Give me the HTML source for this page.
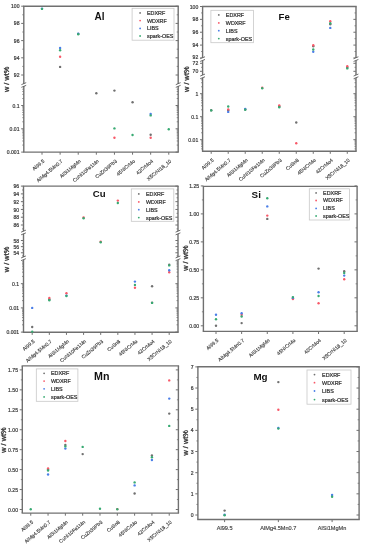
<!DOCTYPE html>
<html><head><meta charset="utf-8"><title>Element comparison</title>
<style>
html,body{margin:0;padding:0;background:#fff;}
body{width:365px;height:550px;overflow:hidden;}
svg{display:block;font-family:'Liberation Sans', Arial, sans-serif;}
</style></head>
<body>
<svg width="365" height="550" viewBox="0 0 365 550">
<rect width="365" height="550" fill="#fff"/>
<line x1="23.10" y1="6.20" x2="178.90" y2="6.20" stroke="#707070" stroke-width="1.4"/>
<line x1="23.10" y1="152.10" x2="178.90" y2="152.10" stroke="#707070" stroke-width="1.4"/>
<line x1="23.80" y1="6.20" x2="23.80" y2="152.10" stroke="#707070" stroke-width="1.4"/>
<line x1="178.20" y1="6.20" x2="178.20" y2="152.10" stroke="#707070" stroke-width="1.4"/>
<line x1="21.20" y1="6.20" x2="23.80" y2="6.20" stroke="#707070" stroke-width="1.0"/>
<line x1="175.60" y1="6.20" x2="178.20" y2="6.20" stroke="#707070" stroke-width="1.0"/>
<line x1="21.20" y1="23.40" x2="23.80" y2="23.40" stroke="#707070" stroke-width="1.0"/>
<line x1="175.60" y1="23.40" x2="178.20" y2="23.40" stroke="#707070" stroke-width="1.0"/>
<line x1="21.20" y1="40.60" x2="23.80" y2="40.60" stroke="#707070" stroke-width="1.0"/>
<line x1="175.60" y1="40.60" x2="178.20" y2="40.60" stroke="#707070" stroke-width="1.0"/>
<line x1="21.20" y1="57.80" x2="23.80" y2="57.80" stroke="#707070" stroke-width="1.0"/>
<line x1="175.60" y1="57.80" x2="178.20" y2="57.80" stroke="#707070" stroke-width="1.0"/>
<line x1="21.20" y1="75.00" x2="23.80" y2="75.00" stroke="#707070" stroke-width="1.0"/>
<line x1="175.60" y1="75.00" x2="178.20" y2="75.00" stroke="#707070" stroke-width="1.0"/>
<line x1="21.20" y1="105.50" x2="23.80" y2="105.50" stroke="#707070" stroke-width="1.0"/>
<line x1="175.60" y1="105.50" x2="178.20" y2="105.50" stroke="#707070" stroke-width="1.0"/>
<line x1="21.20" y1="128.80" x2="23.80" y2="128.80" stroke="#707070" stroke-width="1.0"/>
<line x1="175.60" y1="128.80" x2="178.20" y2="128.80" stroke="#707070" stroke-width="1.0"/>
<line x1="21.20" y1="152.10" x2="23.80" y2="152.10" stroke="#707070" stroke-width="1.0"/>
<line x1="175.60" y1="152.10" x2="178.20" y2="152.10" stroke="#707070" stroke-width="1.0"/>
<line x1="22.30" y1="14.80" x2="23.80" y2="14.80" stroke="#707070" stroke-width="0.8"/>
<line x1="176.70" y1="14.80" x2="178.20" y2="14.80" stroke="#707070" stroke-width="0.8"/>
<line x1="22.30" y1="32.00" x2="23.80" y2="32.00" stroke="#707070" stroke-width="0.8"/>
<line x1="176.70" y1="32.00" x2="178.20" y2="32.00" stroke="#707070" stroke-width="0.8"/>
<line x1="22.30" y1="49.20" x2="23.80" y2="49.20" stroke="#707070" stroke-width="0.8"/>
<line x1="176.70" y1="49.20" x2="178.20" y2="49.20" stroke="#707070" stroke-width="0.8"/>
<line x1="22.30" y1="66.40" x2="23.80" y2="66.40" stroke="#707070" stroke-width="0.8"/>
<line x1="176.70" y1="66.40" x2="178.20" y2="66.40" stroke="#707070" stroke-width="0.8"/>
<line x1="22.30" y1="145.09" x2="23.80" y2="145.09" stroke="#707070" stroke-width="0.8"/>
<line x1="176.70" y1="145.09" x2="178.20" y2="145.09" stroke="#707070" stroke-width="0.8"/>
<line x1="22.30" y1="140.98" x2="23.80" y2="140.98" stroke="#707070" stroke-width="0.8"/>
<line x1="176.70" y1="140.98" x2="178.20" y2="140.98" stroke="#707070" stroke-width="0.8"/>
<line x1="22.30" y1="138.07" x2="23.80" y2="138.07" stroke="#707070" stroke-width="0.8"/>
<line x1="176.70" y1="138.07" x2="178.20" y2="138.07" stroke="#707070" stroke-width="0.8"/>
<line x1="22.30" y1="135.81" x2="23.80" y2="135.81" stroke="#707070" stroke-width="0.8"/>
<line x1="176.70" y1="135.81" x2="178.20" y2="135.81" stroke="#707070" stroke-width="0.8"/>
<line x1="22.30" y1="133.97" x2="23.80" y2="133.97" stroke="#707070" stroke-width="0.8"/>
<line x1="176.70" y1="133.97" x2="178.20" y2="133.97" stroke="#707070" stroke-width="0.8"/>
<line x1="22.30" y1="132.41" x2="23.80" y2="132.41" stroke="#707070" stroke-width="0.8"/>
<line x1="176.70" y1="132.41" x2="178.20" y2="132.41" stroke="#707070" stroke-width="0.8"/>
<line x1="22.30" y1="131.06" x2="23.80" y2="131.06" stroke="#707070" stroke-width="0.8"/>
<line x1="176.70" y1="131.06" x2="178.20" y2="131.06" stroke="#707070" stroke-width="0.8"/>
<line x1="22.30" y1="129.87" x2="23.80" y2="129.87" stroke="#707070" stroke-width="0.8"/>
<line x1="176.70" y1="129.87" x2="178.20" y2="129.87" stroke="#707070" stroke-width="0.8"/>
<line x1="22.30" y1="121.79" x2="23.80" y2="121.79" stroke="#707070" stroke-width="0.8"/>
<line x1="176.70" y1="121.79" x2="178.20" y2="121.79" stroke="#707070" stroke-width="0.8"/>
<line x1="22.30" y1="117.68" x2="23.80" y2="117.68" stroke="#707070" stroke-width="0.8"/>
<line x1="176.70" y1="117.68" x2="178.20" y2="117.68" stroke="#707070" stroke-width="0.8"/>
<line x1="22.30" y1="114.77" x2="23.80" y2="114.77" stroke="#707070" stroke-width="0.8"/>
<line x1="176.70" y1="114.77" x2="178.20" y2="114.77" stroke="#707070" stroke-width="0.8"/>
<line x1="22.30" y1="112.51" x2="23.80" y2="112.51" stroke="#707070" stroke-width="0.8"/>
<line x1="176.70" y1="112.51" x2="178.20" y2="112.51" stroke="#707070" stroke-width="0.8"/>
<line x1="22.30" y1="110.67" x2="23.80" y2="110.67" stroke="#707070" stroke-width="0.8"/>
<line x1="176.70" y1="110.67" x2="178.20" y2="110.67" stroke="#707070" stroke-width="0.8"/>
<line x1="22.30" y1="109.11" x2="23.80" y2="109.11" stroke="#707070" stroke-width="0.8"/>
<line x1="176.70" y1="109.11" x2="178.20" y2="109.11" stroke="#707070" stroke-width="0.8"/>
<line x1="22.30" y1="107.76" x2="23.80" y2="107.76" stroke="#707070" stroke-width="0.8"/>
<line x1="176.70" y1="107.76" x2="178.20" y2="107.76" stroke="#707070" stroke-width="0.8"/>
<line x1="22.30" y1="106.57" x2="23.80" y2="106.57" stroke="#707070" stroke-width="0.8"/>
<line x1="176.70" y1="106.57" x2="178.20" y2="106.57" stroke="#707070" stroke-width="0.8"/>
<line x1="22.30" y1="98.49" x2="23.80" y2="98.49" stroke="#707070" stroke-width="0.8"/>
<line x1="176.70" y1="98.49" x2="178.20" y2="98.49" stroke="#707070" stroke-width="0.8"/>
<line x1="22.30" y1="94.38" x2="23.80" y2="94.38" stroke="#707070" stroke-width="0.8"/>
<line x1="176.70" y1="94.38" x2="178.20" y2="94.38" stroke="#707070" stroke-width="0.8"/>
<line x1="22.30" y1="91.47" x2="23.80" y2="91.47" stroke="#707070" stroke-width="0.8"/>
<line x1="176.70" y1="91.47" x2="178.20" y2="91.47" stroke="#707070" stroke-width="0.8"/>
<line x1="22.30" y1="89.21" x2="23.80" y2="89.21" stroke="#707070" stroke-width="0.8"/>
<line x1="176.70" y1="89.21" x2="178.20" y2="89.21" stroke="#707070" stroke-width="0.8"/>
<text transform="translate(19.50 8.28) scale(0.88 1)" font-size="5.8" text-anchor="end" fill="#3a3a3a" stroke="#3a3a3a" stroke-width="0.22">100</text>
<text transform="translate(19.50 25.48) scale(0.88 1)" font-size="5.8" text-anchor="end" fill="#3a3a3a" stroke="#3a3a3a" stroke-width="0.22">98</text>
<text transform="translate(19.50 42.68) scale(0.88 1)" font-size="5.8" text-anchor="end" fill="#3a3a3a" stroke="#3a3a3a" stroke-width="0.22">96</text>
<text transform="translate(19.50 59.88) scale(0.88 1)" font-size="5.8" text-anchor="end" fill="#3a3a3a" stroke="#3a3a3a" stroke-width="0.22">94</text>
<text transform="translate(19.50 77.08) scale(0.88 1)" font-size="5.8" text-anchor="end" fill="#3a3a3a" stroke="#3a3a3a" stroke-width="0.22">92</text>
<text transform="translate(19.50 107.58) scale(0.88 1)" font-size="5.8" text-anchor="end" fill="#3a3a3a" stroke="#3a3a3a" stroke-width="0.22">0.1</text>
<text transform="translate(19.50 130.88) scale(0.88 1)" font-size="5.8" text-anchor="end" fill="#3a3a3a" stroke="#3a3a3a" stroke-width="0.22">0.01</text>
<text transform="translate(19.50 154.18) scale(0.88 1)" font-size="5.8" text-anchor="end" fill="#3a3a3a" stroke="#3a3a3a" stroke-width="0.22">0.001</text>
<polygon points="21.40,84.65 26.20,82.65 26.20,85.35 21.40,87.35" fill="#fff"/>
<line x1="21.40" y1="84.65" x2="26.20" y2="82.65" stroke="#555" stroke-width="0.85"/>
<line x1="21.40" y1="87.35" x2="26.20" y2="85.35" stroke="#555" stroke-width="0.85"/>
<polygon points="175.80,84.65 180.60,82.65 180.60,85.35 175.80,87.35" fill="#fff"/>
<line x1="175.80" y1="84.65" x2="180.60" y2="82.65" stroke="#555" stroke-width="0.85"/>
<line x1="175.80" y1="87.35" x2="180.60" y2="85.35" stroke="#555" stroke-width="0.85"/>
<line x1="42.00" y1="152.10" x2="42.00" y2="154.70" stroke="#707070" stroke-width="1.0"/>
<line x1="60.11" y1="152.10" x2="60.11" y2="154.70" stroke="#707070" stroke-width="1.0"/>
<line x1="78.22" y1="152.10" x2="78.22" y2="154.70" stroke="#707070" stroke-width="1.0"/>
<line x1="96.33" y1="152.10" x2="96.33" y2="154.70" stroke="#707070" stroke-width="1.0"/>
<line x1="114.44" y1="152.10" x2="114.44" y2="154.70" stroke="#707070" stroke-width="1.0"/>
<line x1="132.55" y1="152.10" x2="132.55" y2="154.70" stroke="#707070" stroke-width="1.0"/>
<line x1="150.66" y1="152.10" x2="150.66" y2="154.70" stroke="#707070" stroke-width="1.0"/>
<line x1="168.77" y1="152.10" x2="168.77" y2="154.70" stroke="#707070" stroke-width="1.0"/>
<text x="44.90" y="161.70" font-size="5.0" text-anchor="end" fill="#444444" font-weight="normal" stroke="#444444" stroke-width="0.15" transform="rotate(-40 44.90 161.70)">Al99.5</text>
<text x="63.01" y="161.70" font-size="5.0" text-anchor="end" fill="#444444" font-weight="normal" stroke="#444444" stroke-width="0.15" transform="rotate(-40 63.01 161.70)">AlMg4.5Mn0.7</text>
<text x="81.12" y="161.70" font-size="5.0" text-anchor="end" fill="#444444" font-weight="normal" stroke="#444444" stroke-width="0.15" transform="rotate(-40 81.12 161.70)">AlSi1MgMn</text>
<text x="99.23" y="161.70" font-size="5.0" text-anchor="end" fill="#444444" font-weight="normal" stroke="#444444" stroke-width="0.15" transform="rotate(-40 99.23 161.70)">CuNi10Fe1Mn</text>
<text x="117.34" y="161.70" font-size="5.0" text-anchor="end" fill="#444444" font-weight="normal" stroke="#444444" stroke-width="0.15" transform="rotate(-40 117.34 161.70)">CuZn39Pb3</text>
<text x="135.45" y="161.70" font-size="5.0" text-anchor="end" fill="#444444" font-weight="normal" stroke="#444444" stroke-width="0.15" transform="rotate(-40 135.45 161.70)">45NiCrMo</text>
<text x="153.56" y="161.70" font-size="5.0" text-anchor="end" fill="#444444" font-weight="normal" stroke="#444444" stroke-width="0.15" transform="rotate(-40 153.56 161.70)">42CrMo4</text>
<text x="171.67" y="161.70" font-size="5.0" text-anchor="end" fill="#444444" font-weight="normal" stroke="#444444" stroke-width="0.15" transform="rotate(-40 171.67 161.70)">X5CrNi18_10</text>
<rect x="132.10" y="8.30" width="41.90" height="31.90" fill="#fff" stroke="#c8c8c8" stroke-width="0.8"/>
<circle cx="140.10" cy="12.90" r="0.90" fill="#707070"/>
<text x="147.00" y="14.84" font-size="5.4" text-anchor="start" fill="#333" font-weight="normal" stroke="#333" stroke-width="0.22" >EDXRF</text>
<circle cx="140.10" cy="20.60" r="0.90" fill="#f85868"/>
<text x="147.00" y="22.54" font-size="5.4" text-anchor="start" fill="#333" font-weight="normal" stroke="#333" stroke-width="0.22" >WDXRF</text>
<circle cx="140.10" cy="28.40" r="0.90" fill="#4a7ee8"/>
<text x="147.00" y="30.34" font-size="5.4" text-anchor="start" fill="#333" font-weight="normal" stroke="#333" stroke-width="0.22" >LIBS</text>
<circle cx="140.10" cy="36.00" r="0.90" fill="#38aa72"/>
<text x="147.00" y="37.94" font-size="5.4" text-anchor="start" fill="#333" font-weight="normal" stroke="#333" stroke-width="0.22" >spark-OES</text>
<text x="94.60" y="19.50" font-size="10" text-anchor="start" fill="#111" font-weight="bold" >Al</text>
<text x="9.50" y="79.30" font-size="7.4" text-anchor="middle" fill="#333" font-weight="normal" stroke="#333" stroke-width="0.3" transform="rotate(-90 9.50 79.30)">w / wt%</text>
<circle cx="60.11" cy="66.90" r="1.20" fill="#707070"/>
<circle cx="78.22" cy="33.90" r="1.20" fill="#707070"/>
<circle cx="96.33" cy="93.30" r="1.20" fill="#707070"/>
<circle cx="114.44" cy="90.60" r="1.20" fill="#707070"/>
<circle cx="132.55" cy="102.20" r="1.20" fill="#707070"/>
<circle cx="150.66" cy="134.70" r="1.20" fill="#707070"/>
<circle cx="60.11" cy="56.80" r="1.20" fill="#f85868"/>
<circle cx="114.44" cy="137.70" r="1.20" fill="#f85868"/>
<circle cx="150.66" cy="137.70" r="1.20" fill="#f85868"/>
<circle cx="42.00" cy="8.60" r="1.20" fill="#4a7ee8"/>
<circle cx="60.11" cy="47.90" r="1.20" fill="#4a7ee8"/>
<circle cx="78.22" cy="33.60" r="1.20" fill="#4a7ee8"/>
<circle cx="150.66" cy="114.00" r="1.20" fill="#4a7ee8"/>
<circle cx="42.00" cy="8.90" r="1.20" fill="#38aa72"/>
<circle cx="60.11" cy="50.20" r="1.20" fill="#38aa72"/>
<circle cx="78.22" cy="34.20" r="1.20" fill="#38aa72"/>
<circle cx="114.44" cy="128.40" r="1.20" fill="#38aa72"/>
<circle cx="132.55" cy="135.00" r="1.20" fill="#38aa72"/>
<circle cx="150.66" cy="115.40" r="1.20" fill="#38aa72"/>
<circle cx="168.77" cy="129.20" r="1.20" fill="#38aa72"/>
<line x1="201.90" y1="6.50" x2="356.70" y2="6.50" stroke="#707070" stroke-width="1.4"/>
<line x1="201.90" y1="151.20" x2="356.70" y2="151.20" stroke="#707070" stroke-width="1.4"/>
<line x1="202.60" y1="6.50" x2="202.60" y2="151.20" stroke="#707070" stroke-width="1.4"/>
<line x1="356.00" y1="6.50" x2="356.00" y2="151.20" stroke="#707070" stroke-width="1.4"/>
<line x1="200.00" y1="6.50" x2="202.60" y2="6.50" stroke="#707070" stroke-width="1.0"/>
<line x1="353.40" y1="6.50" x2="356.00" y2="6.50" stroke="#707070" stroke-width="1.0"/>
<line x1="200.00" y1="19.36" x2="202.60" y2="19.36" stroke="#707070" stroke-width="1.0"/>
<line x1="353.40" y1="19.36" x2="356.00" y2="19.36" stroke="#707070" stroke-width="1.0"/>
<line x1="200.00" y1="32.22" x2="202.60" y2="32.22" stroke="#707070" stroke-width="1.0"/>
<line x1="353.40" y1="32.22" x2="356.00" y2="32.22" stroke="#707070" stroke-width="1.0"/>
<line x1="200.00" y1="45.08" x2="202.60" y2="45.08" stroke="#707070" stroke-width="1.0"/>
<line x1="353.40" y1="45.08" x2="356.00" y2="45.08" stroke="#707070" stroke-width="1.0"/>
<line x1="200.00" y1="57.94" x2="202.60" y2="57.94" stroke="#707070" stroke-width="1.0"/>
<line x1="353.40" y1="57.94" x2="356.00" y2="57.94" stroke="#707070" stroke-width="1.0"/>
<line x1="200.00" y1="63.30" x2="202.60" y2="63.30" stroke="#707070" stroke-width="1.0"/>
<line x1="353.40" y1="63.30" x2="356.00" y2="63.30" stroke="#707070" stroke-width="1.0"/>
<line x1="200.00" y1="71.30" x2="202.60" y2="71.30" stroke="#707070" stroke-width="1.0"/>
<line x1="353.40" y1="71.30" x2="356.00" y2="71.30" stroke="#707070" stroke-width="1.0"/>
<line x1="200.00" y1="93.70" x2="202.60" y2="93.70" stroke="#707070" stroke-width="1.0"/>
<line x1="353.40" y1="93.70" x2="356.00" y2="93.70" stroke="#707070" stroke-width="1.0"/>
<line x1="200.00" y1="116.70" x2="202.60" y2="116.70" stroke="#707070" stroke-width="1.0"/>
<line x1="353.40" y1="116.70" x2="356.00" y2="116.70" stroke="#707070" stroke-width="1.0"/>
<line x1="200.00" y1="139.70" x2="202.60" y2="139.70" stroke="#707070" stroke-width="1.0"/>
<line x1="353.40" y1="139.70" x2="356.00" y2="139.70" stroke="#707070" stroke-width="1.0"/>
<line x1="201.10" y1="12.93" x2="202.60" y2="12.93" stroke="#707070" stroke-width="0.8"/>
<line x1="354.50" y1="12.93" x2="356.00" y2="12.93" stroke="#707070" stroke-width="0.8"/>
<line x1="201.10" y1="25.79" x2="202.60" y2="25.79" stroke="#707070" stroke-width="0.8"/>
<line x1="354.50" y1="25.79" x2="356.00" y2="25.79" stroke="#707070" stroke-width="0.8"/>
<line x1="201.10" y1="38.65" x2="202.60" y2="38.65" stroke="#707070" stroke-width="0.8"/>
<line x1="354.50" y1="38.65" x2="356.00" y2="38.65" stroke="#707070" stroke-width="0.8"/>
<line x1="201.10" y1="51.51" x2="202.60" y2="51.51" stroke="#707070" stroke-width="0.8"/>
<line x1="354.50" y1="51.51" x2="356.00" y2="51.51" stroke="#707070" stroke-width="0.8"/>
<line x1="201.10" y1="67.30" x2="202.60" y2="67.30" stroke="#707070" stroke-width="0.8"/>
<line x1="354.50" y1="67.30" x2="356.00" y2="67.30" stroke="#707070" stroke-width="0.8"/>
<line x1="201.10" y1="148.85" x2="202.60" y2="148.85" stroke="#707070" stroke-width="0.8"/>
<line x1="354.50" y1="148.85" x2="356.00" y2="148.85" stroke="#707070" stroke-width="0.8"/>
<line x1="201.10" y1="146.62" x2="202.60" y2="146.62" stroke="#707070" stroke-width="0.8"/>
<line x1="354.50" y1="146.62" x2="356.00" y2="146.62" stroke="#707070" stroke-width="0.8"/>
<line x1="201.10" y1="144.80" x2="202.60" y2="144.80" stroke="#707070" stroke-width="0.8"/>
<line x1="354.50" y1="144.80" x2="356.00" y2="144.80" stroke="#707070" stroke-width="0.8"/>
<line x1="201.10" y1="143.26" x2="202.60" y2="143.26" stroke="#707070" stroke-width="0.8"/>
<line x1="354.50" y1="143.26" x2="356.00" y2="143.26" stroke="#707070" stroke-width="0.8"/>
<line x1="201.10" y1="141.93" x2="202.60" y2="141.93" stroke="#707070" stroke-width="0.8"/>
<line x1="354.50" y1="141.93" x2="356.00" y2="141.93" stroke="#707070" stroke-width="0.8"/>
<line x1="201.10" y1="140.75" x2="202.60" y2="140.75" stroke="#707070" stroke-width="0.8"/>
<line x1="354.50" y1="140.75" x2="356.00" y2="140.75" stroke="#707070" stroke-width="0.8"/>
<line x1="201.10" y1="132.78" x2="202.60" y2="132.78" stroke="#707070" stroke-width="0.8"/>
<line x1="354.50" y1="132.78" x2="356.00" y2="132.78" stroke="#707070" stroke-width="0.8"/>
<line x1="201.10" y1="128.73" x2="202.60" y2="128.73" stroke="#707070" stroke-width="0.8"/>
<line x1="354.50" y1="128.73" x2="356.00" y2="128.73" stroke="#707070" stroke-width="0.8"/>
<line x1="201.10" y1="125.85" x2="202.60" y2="125.85" stroke="#707070" stroke-width="0.8"/>
<line x1="354.50" y1="125.85" x2="356.00" y2="125.85" stroke="#707070" stroke-width="0.8"/>
<line x1="201.10" y1="123.62" x2="202.60" y2="123.62" stroke="#707070" stroke-width="0.8"/>
<line x1="354.50" y1="123.62" x2="356.00" y2="123.62" stroke="#707070" stroke-width="0.8"/>
<line x1="201.10" y1="121.80" x2="202.60" y2="121.80" stroke="#707070" stroke-width="0.8"/>
<line x1="354.50" y1="121.80" x2="356.00" y2="121.80" stroke="#707070" stroke-width="0.8"/>
<line x1="201.10" y1="120.26" x2="202.60" y2="120.26" stroke="#707070" stroke-width="0.8"/>
<line x1="354.50" y1="120.26" x2="356.00" y2="120.26" stroke="#707070" stroke-width="0.8"/>
<line x1="201.10" y1="118.93" x2="202.60" y2="118.93" stroke="#707070" stroke-width="0.8"/>
<line x1="354.50" y1="118.93" x2="356.00" y2="118.93" stroke="#707070" stroke-width="0.8"/>
<line x1="201.10" y1="117.75" x2="202.60" y2="117.75" stroke="#707070" stroke-width="0.8"/>
<line x1="354.50" y1="117.75" x2="356.00" y2="117.75" stroke="#707070" stroke-width="0.8"/>
<line x1="201.10" y1="109.78" x2="202.60" y2="109.78" stroke="#707070" stroke-width="0.8"/>
<line x1="354.50" y1="109.78" x2="356.00" y2="109.78" stroke="#707070" stroke-width="0.8"/>
<line x1="201.10" y1="105.73" x2="202.60" y2="105.73" stroke="#707070" stroke-width="0.8"/>
<line x1="354.50" y1="105.73" x2="356.00" y2="105.73" stroke="#707070" stroke-width="0.8"/>
<line x1="201.10" y1="102.85" x2="202.60" y2="102.85" stroke="#707070" stroke-width="0.8"/>
<line x1="354.50" y1="102.85" x2="356.00" y2="102.85" stroke="#707070" stroke-width="0.8"/>
<line x1="201.10" y1="100.62" x2="202.60" y2="100.62" stroke="#707070" stroke-width="0.8"/>
<line x1="354.50" y1="100.62" x2="356.00" y2="100.62" stroke="#707070" stroke-width="0.8"/>
<line x1="201.10" y1="98.80" x2="202.60" y2="98.80" stroke="#707070" stroke-width="0.8"/>
<line x1="354.50" y1="98.80" x2="356.00" y2="98.80" stroke="#707070" stroke-width="0.8"/>
<line x1="201.10" y1="97.26" x2="202.60" y2="97.26" stroke="#707070" stroke-width="0.8"/>
<line x1="354.50" y1="97.26" x2="356.00" y2="97.26" stroke="#707070" stroke-width="0.8"/>
<line x1="201.10" y1="95.93" x2="202.60" y2="95.93" stroke="#707070" stroke-width="0.8"/>
<line x1="354.50" y1="95.93" x2="356.00" y2="95.93" stroke="#707070" stroke-width="0.8"/>
<line x1="201.10" y1="94.75" x2="202.60" y2="94.75" stroke="#707070" stroke-width="0.8"/>
<line x1="354.50" y1="94.75" x2="356.00" y2="94.75" stroke="#707070" stroke-width="0.8"/>
<line x1="201.10" y1="86.78" x2="202.60" y2="86.78" stroke="#707070" stroke-width="0.8"/>
<line x1="354.50" y1="86.78" x2="356.00" y2="86.78" stroke="#707070" stroke-width="0.8"/>
<line x1="201.10" y1="82.73" x2="202.60" y2="82.73" stroke="#707070" stroke-width="0.8"/>
<line x1="354.50" y1="82.73" x2="356.00" y2="82.73" stroke="#707070" stroke-width="0.8"/>
<line x1="201.10" y1="79.85" x2="202.60" y2="79.85" stroke="#707070" stroke-width="0.8"/>
<line x1="354.50" y1="79.85" x2="356.00" y2="79.85" stroke="#707070" stroke-width="0.8"/>
<text transform="translate(198.30 8.58) scale(0.88 1)" font-size="5.8" text-anchor="end" fill="#3a3a3a" stroke="#3a3a3a" stroke-width="0.22">100</text>
<text transform="translate(198.30 21.44) scale(0.88 1)" font-size="5.8" text-anchor="end" fill="#3a3a3a" stroke="#3a3a3a" stroke-width="0.22">98</text>
<text transform="translate(198.30 34.30) scale(0.88 1)" font-size="5.8" text-anchor="end" fill="#3a3a3a" stroke="#3a3a3a" stroke-width="0.22">96</text>
<text transform="translate(198.30 47.16) scale(0.88 1)" font-size="5.8" text-anchor="end" fill="#3a3a3a" stroke="#3a3a3a" stroke-width="0.22">94</text>
<text transform="translate(198.30 59.22) scale(0.88 1)" font-size="5.8" text-anchor="end" fill="#3a3a3a" stroke="#3a3a3a" stroke-width="0.22">92</text>
<text transform="translate(198.30 65.38) scale(0.88 1)" font-size="5.8" text-anchor="end" fill="#3a3a3a" stroke="#3a3a3a" stroke-width="0.22">72</text>
<text transform="translate(198.30 73.38) scale(0.88 1)" font-size="5.8" text-anchor="end" fill="#3a3a3a" stroke="#3a3a3a" stroke-width="0.22">70</text>
<text transform="translate(198.30 95.78) scale(0.88 1)" font-size="5.8" text-anchor="end" fill="#3a3a3a" stroke="#3a3a3a" stroke-width="0.22">1</text>
<text transform="translate(198.30 118.78) scale(0.88 1)" font-size="5.8" text-anchor="end" fill="#3a3a3a" stroke="#3a3a3a" stroke-width="0.22">0.1</text>
<text transform="translate(198.30 141.78) scale(0.88 1)" font-size="5.8" text-anchor="end" fill="#3a3a3a" stroke="#3a3a3a" stroke-width="0.22">0.01</text>
<polygon points="200.20,58.75 205.00,56.75 205.00,59.45 200.20,61.45" fill="#fff"/>
<line x1="200.20" y1="58.75" x2="205.00" y2="56.75" stroke="#555" stroke-width="0.85"/>
<line x1="200.20" y1="61.45" x2="205.00" y2="59.45" stroke="#555" stroke-width="0.85"/>
<polygon points="353.60,58.75 358.40,56.75 358.40,59.45 353.60,61.45" fill="#fff"/>
<line x1="353.60" y1="58.75" x2="358.40" y2="56.75" stroke="#555" stroke-width="0.85"/>
<line x1="353.60" y1="61.45" x2="358.40" y2="59.45" stroke="#555" stroke-width="0.85"/>
<polygon points="200.20,76.05 205.00,74.05 205.00,76.75 200.20,78.75" fill="#fff"/>
<line x1="200.20" y1="76.05" x2="205.00" y2="74.05" stroke="#555" stroke-width="0.85"/>
<line x1="200.20" y1="78.75" x2="205.00" y2="76.75" stroke="#555" stroke-width="0.85"/>
<polygon points="353.60,76.05 358.40,74.05 358.40,76.75 353.60,78.75" fill="#fff"/>
<line x1="353.60" y1="76.05" x2="358.40" y2="74.05" stroke="#555" stroke-width="0.85"/>
<line x1="353.60" y1="78.75" x2="358.40" y2="76.75" stroke="#555" stroke-width="0.85"/>
<line x1="211.20" y1="151.20" x2="211.20" y2="153.80" stroke="#707070" stroke-width="1.0"/>
<line x1="228.21" y1="151.20" x2="228.21" y2="153.80" stroke="#707070" stroke-width="1.0"/>
<line x1="245.22" y1="151.20" x2="245.22" y2="153.80" stroke="#707070" stroke-width="1.0"/>
<line x1="262.23" y1="151.20" x2="262.23" y2="153.80" stroke="#707070" stroke-width="1.0"/>
<line x1="279.24" y1="151.20" x2="279.24" y2="153.80" stroke="#707070" stroke-width="1.0"/>
<line x1="296.25" y1="151.20" x2="296.25" y2="153.80" stroke="#707070" stroke-width="1.0"/>
<line x1="313.26" y1="151.20" x2="313.26" y2="153.80" stroke="#707070" stroke-width="1.0"/>
<line x1="330.27" y1="151.20" x2="330.27" y2="153.80" stroke="#707070" stroke-width="1.0"/>
<line x1="347.28" y1="151.20" x2="347.28" y2="153.80" stroke="#707070" stroke-width="1.0"/>
<text x="214.10" y="160.80" font-size="5.0" text-anchor="end" fill="#444444" font-weight="normal" stroke="#444444" stroke-width="0.15" transform="rotate(-40 214.10 160.80)">Al99.5</text>
<text x="231.11" y="160.80" font-size="5.0" text-anchor="end" fill="#444444" font-weight="normal" stroke="#444444" stroke-width="0.15" transform="rotate(-40 231.11 160.80)">AlMg4.5Mn0.7</text>
<text x="248.12" y="160.80" font-size="5.0" text-anchor="end" fill="#444444" font-weight="normal" stroke="#444444" stroke-width="0.15" transform="rotate(-40 248.12 160.80)">AlSi1MgMn</text>
<text x="265.13" y="160.80" font-size="5.0" text-anchor="end" fill="#444444" font-weight="normal" stroke="#444444" stroke-width="0.15" transform="rotate(-40 265.13 160.80)">CuNi10Fe1Mn</text>
<text x="282.14" y="160.80" font-size="5.0" text-anchor="end" fill="#444444" font-weight="normal" stroke="#444444" stroke-width="0.15" transform="rotate(-40 282.14 160.80)">CuZn39Pb3</text>
<text x="299.15" y="160.80" font-size="5.0" text-anchor="end" fill="#444444" font-weight="normal" stroke="#444444" stroke-width="0.15" transform="rotate(-40 299.15 160.80)">CuSn8</text>
<text x="316.16" y="160.80" font-size="5.0" text-anchor="end" fill="#444444" font-weight="normal" stroke="#444444" stroke-width="0.15" transform="rotate(-40 316.16 160.80)">45NiCrMo</text>
<text x="333.17" y="160.80" font-size="5.0" text-anchor="end" fill="#444444" font-weight="normal" stroke="#444444" stroke-width="0.15" transform="rotate(-40 333.17 160.80)">42CrMo4</text>
<text x="350.18" y="160.80" font-size="5.0" text-anchor="end" fill="#444444" font-weight="normal" stroke="#444444" stroke-width="0.15" transform="rotate(-40 350.18 160.80)">X5CrNi18_10</text>
<rect x="210.90" y="10.30" width="42.50" height="32.40" fill="#fff" stroke="#c8c8c8" stroke-width="0.8"/>
<circle cx="218.80" cy="14.90" r="0.90" fill="#707070"/>
<text x="225.80" y="16.84" font-size="5.4" text-anchor="start" fill="#333" font-weight="normal" stroke="#333" stroke-width="0.22" >EDXRF</text>
<circle cx="218.80" cy="22.90" r="0.90" fill="#f85868"/>
<text x="225.80" y="24.84" font-size="5.4" text-anchor="start" fill="#333" font-weight="normal" stroke="#333" stroke-width="0.22" >WDXRF</text>
<circle cx="218.80" cy="30.70" r="0.90" fill="#4a7ee8"/>
<text x="225.80" y="32.64" font-size="5.4" text-anchor="start" fill="#333" font-weight="normal" stroke="#333" stroke-width="0.22" >LIBS</text>
<circle cx="218.80" cy="38.60" r="0.90" fill="#38aa72"/>
<text x="225.80" y="40.54" font-size="5.4" text-anchor="start" fill="#333" font-weight="normal" stroke="#333" stroke-width="0.22" >spark-OES</text>
<text x="278.60" y="20.00" font-size="9.6" text-anchor="start" fill="#111" font-weight="bold" >Fe</text>
<text x="188.70" y="79.20" font-size="7.4" text-anchor="middle" fill="#333" font-weight="normal" stroke="#333" stroke-width="0.3" transform="rotate(-90 188.70 79.20)">w / wt%</text>
<circle cx="211.20" cy="110.20" r="1.20" fill="#707070"/>
<circle cx="228.21" cy="110.30" r="1.20" fill="#707070"/>
<circle cx="245.22" cy="109.40" r="1.20" fill="#707070"/>
<circle cx="279.24" cy="106.20" r="1.20" fill="#707070"/>
<circle cx="296.25" cy="122.50" r="1.20" fill="#707070"/>
<circle cx="313.26" cy="46.20" r="1.20" fill="#707070"/>
<circle cx="330.27" cy="24.30" r="1.20" fill="#707070"/>
<circle cx="347.28" cy="67.40" r="1.20" fill="#707070"/>
<circle cx="228.21" cy="109.40" r="1.20" fill="#f85868"/>
<circle cx="262.23" cy="87.80" r="1.20" fill="#f85868"/>
<circle cx="279.24" cy="105.40" r="1.20" fill="#f85868"/>
<circle cx="296.25" cy="143.30" r="1.20" fill="#f85868"/>
<circle cx="313.26" cy="45.20" r="1.20" fill="#f85868"/>
<circle cx="330.27" cy="21.20" r="1.20" fill="#f85868"/>
<circle cx="347.28" cy="66.30" r="1.20" fill="#f85868"/>
<circle cx="228.21" cy="111.90" r="1.20" fill="#4a7ee8"/>
<circle cx="245.22" cy="109.00" r="1.20" fill="#4a7ee8"/>
<circle cx="313.26" cy="51.80" r="1.20" fill="#4a7ee8"/>
<circle cx="330.27" cy="27.90" r="1.20" fill="#4a7ee8"/>
<circle cx="211.20" cy="110.40" r="1.20" fill="#38aa72"/>
<circle cx="228.21" cy="106.50" r="1.20" fill="#38aa72"/>
<circle cx="245.22" cy="109.80" r="1.20" fill="#38aa72"/>
<circle cx="262.23" cy="88.20" r="1.20" fill="#38aa72"/>
<circle cx="279.24" cy="107.30" r="1.20" fill="#38aa72"/>
<circle cx="313.26" cy="49.50" r="1.20" fill="#38aa72"/>
<circle cx="330.27" cy="23.20" r="1.20" fill="#38aa72"/>
<circle cx="347.28" cy="68.40" r="1.20" fill="#38aa72"/>
<line x1="22.80" y1="186.10" x2="178.70" y2="186.10" stroke="#707070" stroke-width="1.4"/>
<line x1="22.80" y1="332.30" x2="178.70" y2="332.30" stroke="#707070" stroke-width="1.4"/>
<line x1="23.50" y1="186.10" x2="23.50" y2="332.30" stroke="#707070" stroke-width="1.4"/>
<line x1="178.00" y1="186.10" x2="178.00" y2="332.30" stroke="#707070" stroke-width="1.4"/>
<line x1="20.90" y1="186.10" x2="23.50" y2="186.10" stroke="#707070" stroke-width="1.0"/>
<line x1="175.40" y1="186.10" x2="178.00" y2="186.10" stroke="#707070" stroke-width="1.0"/>
<line x1="20.90" y1="193.88" x2="23.50" y2="193.88" stroke="#707070" stroke-width="1.0"/>
<line x1="175.40" y1="193.88" x2="178.00" y2="193.88" stroke="#707070" stroke-width="1.0"/>
<line x1="20.90" y1="201.66" x2="23.50" y2="201.66" stroke="#707070" stroke-width="1.0"/>
<line x1="175.40" y1="201.66" x2="178.00" y2="201.66" stroke="#707070" stroke-width="1.0"/>
<line x1="20.90" y1="209.44" x2="23.50" y2="209.44" stroke="#707070" stroke-width="1.0"/>
<line x1="175.40" y1="209.44" x2="178.00" y2="209.44" stroke="#707070" stroke-width="1.0"/>
<line x1="20.90" y1="217.22" x2="23.50" y2="217.22" stroke="#707070" stroke-width="1.0"/>
<line x1="175.40" y1="217.22" x2="178.00" y2="217.22" stroke="#707070" stroke-width="1.0"/>
<line x1="20.90" y1="225.00" x2="23.50" y2="225.00" stroke="#707070" stroke-width="1.0"/>
<line x1="175.40" y1="225.00" x2="178.00" y2="225.00" stroke="#707070" stroke-width="1.0"/>
<line x1="20.90" y1="240.50" x2="23.50" y2="240.50" stroke="#707070" stroke-width="1.0"/>
<line x1="175.40" y1="240.50" x2="178.00" y2="240.50" stroke="#707070" stroke-width="1.0"/>
<line x1="20.90" y1="246.64" x2="23.50" y2="246.64" stroke="#707070" stroke-width="1.0"/>
<line x1="175.40" y1="246.64" x2="178.00" y2="246.64" stroke="#707070" stroke-width="1.0"/>
<line x1="20.90" y1="252.78" x2="23.50" y2="252.78" stroke="#707070" stroke-width="1.0"/>
<line x1="175.40" y1="252.78" x2="178.00" y2="252.78" stroke="#707070" stroke-width="1.0"/>
<line x1="20.90" y1="283.70" x2="23.50" y2="283.70" stroke="#707070" stroke-width="1.0"/>
<line x1="175.40" y1="283.70" x2="178.00" y2="283.70" stroke="#707070" stroke-width="1.0"/>
<line x1="20.90" y1="307.90" x2="23.50" y2="307.90" stroke="#707070" stroke-width="1.0"/>
<line x1="175.40" y1="307.90" x2="178.00" y2="307.90" stroke="#707070" stroke-width="1.0"/>
<line x1="20.90" y1="332.10" x2="23.50" y2="332.10" stroke="#707070" stroke-width="1.0"/>
<line x1="175.40" y1="332.10" x2="178.00" y2="332.10" stroke="#707070" stroke-width="1.0"/>
<line x1="22.00" y1="189.99" x2="23.50" y2="189.99" stroke="#707070" stroke-width="0.8"/>
<line x1="176.50" y1="189.99" x2="178.00" y2="189.99" stroke="#707070" stroke-width="0.8"/>
<line x1="22.00" y1="197.77" x2="23.50" y2="197.77" stroke="#707070" stroke-width="0.8"/>
<line x1="176.50" y1="197.77" x2="178.00" y2="197.77" stroke="#707070" stroke-width="0.8"/>
<line x1="22.00" y1="205.55" x2="23.50" y2="205.55" stroke="#707070" stroke-width="0.8"/>
<line x1="176.50" y1="205.55" x2="178.00" y2="205.55" stroke="#707070" stroke-width="0.8"/>
<line x1="22.00" y1="213.33" x2="23.50" y2="213.33" stroke="#707070" stroke-width="0.8"/>
<line x1="176.50" y1="213.33" x2="178.00" y2="213.33" stroke="#707070" stroke-width="0.8"/>
<line x1="22.00" y1="221.11" x2="23.50" y2="221.11" stroke="#707070" stroke-width="0.8"/>
<line x1="176.50" y1="221.11" x2="178.00" y2="221.11" stroke="#707070" stroke-width="0.8"/>
<line x1="22.00" y1="228.89" x2="23.50" y2="228.89" stroke="#707070" stroke-width="0.8"/>
<line x1="176.50" y1="228.89" x2="178.00" y2="228.89" stroke="#707070" stroke-width="0.8"/>
<line x1="22.00" y1="243.57" x2="23.50" y2="243.57" stroke="#707070" stroke-width="0.8"/>
<line x1="176.50" y1="243.57" x2="178.00" y2="243.57" stroke="#707070" stroke-width="0.8"/>
<line x1="22.00" y1="249.71" x2="23.50" y2="249.71" stroke="#707070" stroke-width="0.8"/>
<line x1="176.50" y1="249.71" x2="178.00" y2="249.71" stroke="#707070" stroke-width="0.8"/>
<line x1="22.00" y1="255.85" x2="23.50" y2="255.85" stroke="#707070" stroke-width="0.8"/>
<line x1="176.50" y1="255.85" x2="178.00" y2="255.85" stroke="#707070" stroke-width="0.8"/>
<line x1="22.00" y1="324.82" x2="23.50" y2="324.82" stroke="#707070" stroke-width="0.8"/>
<line x1="176.50" y1="324.82" x2="178.00" y2="324.82" stroke="#707070" stroke-width="0.8"/>
<line x1="22.00" y1="320.55" x2="23.50" y2="320.55" stroke="#707070" stroke-width="0.8"/>
<line x1="176.50" y1="320.55" x2="178.00" y2="320.55" stroke="#707070" stroke-width="0.8"/>
<line x1="22.00" y1="317.53" x2="23.50" y2="317.53" stroke="#707070" stroke-width="0.8"/>
<line x1="176.50" y1="317.53" x2="178.00" y2="317.53" stroke="#707070" stroke-width="0.8"/>
<line x1="22.00" y1="315.18" x2="23.50" y2="315.18" stroke="#707070" stroke-width="0.8"/>
<line x1="176.50" y1="315.18" x2="178.00" y2="315.18" stroke="#707070" stroke-width="0.8"/>
<line x1="22.00" y1="313.27" x2="23.50" y2="313.27" stroke="#707070" stroke-width="0.8"/>
<line x1="176.50" y1="313.27" x2="178.00" y2="313.27" stroke="#707070" stroke-width="0.8"/>
<line x1="22.00" y1="311.65" x2="23.50" y2="311.65" stroke="#707070" stroke-width="0.8"/>
<line x1="176.50" y1="311.65" x2="178.00" y2="311.65" stroke="#707070" stroke-width="0.8"/>
<line x1="22.00" y1="310.25" x2="23.50" y2="310.25" stroke="#707070" stroke-width="0.8"/>
<line x1="176.50" y1="310.25" x2="178.00" y2="310.25" stroke="#707070" stroke-width="0.8"/>
<line x1="22.00" y1="309.01" x2="23.50" y2="309.01" stroke="#707070" stroke-width="0.8"/>
<line x1="176.50" y1="309.01" x2="178.00" y2="309.01" stroke="#707070" stroke-width="0.8"/>
<line x1="22.00" y1="300.62" x2="23.50" y2="300.62" stroke="#707070" stroke-width="0.8"/>
<line x1="176.50" y1="300.62" x2="178.00" y2="300.62" stroke="#707070" stroke-width="0.8"/>
<line x1="22.00" y1="296.35" x2="23.50" y2="296.35" stroke="#707070" stroke-width="0.8"/>
<line x1="176.50" y1="296.35" x2="178.00" y2="296.35" stroke="#707070" stroke-width="0.8"/>
<line x1="22.00" y1="293.33" x2="23.50" y2="293.33" stroke="#707070" stroke-width="0.8"/>
<line x1="176.50" y1="293.33" x2="178.00" y2="293.33" stroke="#707070" stroke-width="0.8"/>
<line x1="22.00" y1="290.98" x2="23.50" y2="290.98" stroke="#707070" stroke-width="0.8"/>
<line x1="176.50" y1="290.98" x2="178.00" y2="290.98" stroke="#707070" stroke-width="0.8"/>
<line x1="22.00" y1="289.07" x2="23.50" y2="289.07" stroke="#707070" stroke-width="0.8"/>
<line x1="176.50" y1="289.07" x2="178.00" y2="289.07" stroke="#707070" stroke-width="0.8"/>
<line x1="22.00" y1="287.45" x2="23.50" y2="287.45" stroke="#707070" stroke-width="0.8"/>
<line x1="176.50" y1="287.45" x2="178.00" y2="287.45" stroke="#707070" stroke-width="0.8"/>
<line x1="22.00" y1="286.05" x2="23.50" y2="286.05" stroke="#707070" stroke-width="0.8"/>
<line x1="176.50" y1="286.05" x2="178.00" y2="286.05" stroke="#707070" stroke-width="0.8"/>
<line x1="22.00" y1="284.81" x2="23.50" y2="284.81" stroke="#707070" stroke-width="0.8"/>
<line x1="176.50" y1="284.81" x2="178.00" y2="284.81" stroke="#707070" stroke-width="0.8"/>
<line x1="22.00" y1="276.42" x2="23.50" y2="276.42" stroke="#707070" stroke-width="0.8"/>
<line x1="176.50" y1="276.42" x2="178.00" y2="276.42" stroke="#707070" stroke-width="0.8"/>
<line x1="22.00" y1="272.15" x2="23.50" y2="272.15" stroke="#707070" stroke-width="0.8"/>
<line x1="176.50" y1="272.15" x2="178.00" y2="272.15" stroke="#707070" stroke-width="0.8"/>
<line x1="22.00" y1="269.13" x2="23.50" y2="269.13" stroke="#707070" stroke-width="0.8"/>
<line x1="176.50" y1="269.13" x2="178.00" y2="269.13" stroke="#707070" stroke-width="0.8"/>
<line x1="22.00" y1="266.78" x2="23.50" y2="266.78" stroke="#707070" stroke-width="0.8"/>
<line x1="176.50" y1="266.78" x2="178.00" y2="266.78" stroke="#707070" stroke-width="0.8"/>
<line x1="22.00" y1="264.87" x2="23.50" y2="264.87" stroke="#707070" stroke-width="0.8"/>
<line x1="176.50" y1="264.87" x2="178.00" y2="264.87" stroke="#707070" stroke-width="0.8"/>
<line x1="22.00" y1="263.25" x2="23.50" y2="263.25" stroke="#707070" stroke-width="0.8"/>
<line x1="176.50" y1="263.25" x2="178.00" y2="263.25" stroke="#707070" stroke-width="0.8"/>
<line x1="22.00" y1="261.85" x2="23.50" y2="261.85" stroke="#707070" stroke-width="0.8"/>
<line x1="176.50" y1="261.85" x2="178.00" y2="261.85" stroke="#707070" stroke-width="0.8"/>
<text transform="translate(19.20 188.18) scale(0.88 1)" font-size="5.8" text-anchor="end" fill="#3a3a3a" stroke="#3a3a3a" stroke-width="0.22">96</text>
<text transform="translate(19.20 195.96) scale(0.88 1)" font-size="5.8" text-anchor="end" fill="#3a3a3a" stroke="#3a3a3a" stroke-width="0.22">94</text>
<text transform="translate(19.20 203.74) scale(0.88 1)" font-size="5.8" text-anchor="end" fill="#3a3a3a" stroke="#3a3a3a" stroke-width="0.22">92</text>
<text transform="translate(19.20 211.52) scale(0.88 1)" font-size="5.8" text-anchor="end" fill="#3a3a3a" stroke="#3a3a3a" stroke-width="0.22">90</text>
<text transform="translate(19.20 219.30) scale(0.88 1)" font-size="5.8" text-anchor="end" fill="#3a3a3a" stroke="#3a3a3a" stroke-width="0.22">88</text>
<text transform="translate(19.20 227.08) scale(0.88 1)" font-size="5.8" text-anchor="end" fill="#3a3a3a" stroke="#3a3a3a" stroke-width="0.22">86</text>
<text transform="translate(19.20 242.58) scale(0.88 1)" font-size="5.8" text-anchor="end" fill="#3a3a3a" stroke="#3a3a3a" stroke-width="0.22">58</text>
<text transform="translate(19.20 248.72) scale(0.88 1)" font-size="5.8" text-anchor="end" fill="#3a3a3a" stroke="#3a3a3a" stroke-width="0.22">56</text>
<text transform="translate(19.20 254.86) scale(0.88 1)" font-size="5.8" text-anchor="end" fill="#3a3a3a" stroke="#3a3a3a" stroke-width="0.22">54</text>
<text transform="translate(19.20 285.78) scale(0.88 1)" font-size="5.8" text-anchor="end" fill="#3a3a3a" stroke="#3a3a3a" stroke-width="0.22">0.1</text>
<text transform="translate(19.20 309.98) scale(0.88 1)" font-size="5.8" text-anchor="end" fill="#3a3a3a" stroke="#3a3a3a" stroke-width="0.22">0.01</text>
<text transform="translate(19.20 334.18) scale(0.88 1)" font-size="5.8" text-anchor="end" fill="#3a3a3a" stroke="#3a3a3a" stroke-width="0.22">0.001</text>
<polygon points="21.10,232.15 25.90,230.15 25.90,232.85 21.10,234.85" fill="#fff"/>
<line x1="21.10" y1="232.15" x2="25.90" y2="230.15" stroke="#555" stroke-width="0.85"/>
<line x1="21.10" y1="234.85" x2="25.90" y2="232.85" stroke="#555" stroke-width="0.85"/>
<polygon points="175.60,232.15 180.40,230.15 180.40,232.85 175.60,234.85" fill="#fff"/>
<line x1="175.60" y1="232.15" x2="180.40" y2="230.15" stroke="#555" stroke-width="0.85"/>
<line x1="175.60" y1="234.85" x2="180.40" y2="232.85" stroke="#555" stroke-width="0.85"/>
<polygon points="21.10,257.95 25.90,255.95 25.90,258.65 21.10,260.65" fill="#fff"/>
<line x1="21.10" y1="257.95" x2="25.90" y2="255.95" stroke="#555" stroke-width="0.85"/>
<line x1="21.10" y1="260.65" x2="25.90" y2="258.65" stroke="#555" stroke-width="0.85"/>
<polygon points="175.60,257.95 180.40,255.95 180.40,258.65 175.60,260.65" fill="#fff"/>
<line x1="175.60" y1="257.95" x2="180.40" y2="255.95" stroke="#555" stroke-width="0.85"/>
<line x1="175.60" y1="260.65" x2="180.40" y2="258.65" stroke="#555" stroke-width="0.85"/>
<line x1="32.20" y1="332.30" x2="32.20" y2="334.90" stroke="#707070" stroke-width="1.0"/>
<line x1="49.33" y1="332.30" x2="49.33" y2="334.90" stroke="#707070" stroke-width="1.0"/>
<line x1="66.45" y1="332.30" x2="66.45" y2="334.90" stroke="#707070" stroke-width="1.0"/>
<line x1="83.58" y1="332.30" x2="83.58" y2="334.90" stroke="#707070" stroke-width="1.0"/>
<line x1="100.70" y1="332.30" x2="100.70" y2="334.90" stroke="#707070" stroke-width="1.0"/>
<line x1="117.83" y1="332.30" x2="117.83" y2="334.90" stroke="#707070" stroke-width="1.0"/>
<line x1="134.95" y1="332.30" x2="134.95" y2="334.90" stroke="#707070" stroke-width="1.0"/>
<line x1="152.07" y1="332.30" x2="152.07" y2="334.90" stroke="#707070" stroke-width="1.0"/>
<line x1="169.20" y1="332.30" x2="169.20" y2="334.90" stroke="#707070" stroke-width="1.0"/>
<text x="35.10" y="341.90" font-size="5.0" text-anchor="end" fill="#444444" font-weight="normal" stroke="#444444" stroke-width="0.15" transform="rotate(-40 35.10 341.90)">Al99.5</text>
<text x="52.23" y="341.90" font-size="5.0" text-anchor="end" fill="#444444" font-weight="normal" stroke="#444444" stroke-width="0.15" transform="rotate(-40 52.23 341.90)">AlMg4.5Mn0.7</text>
<text x="69.35" y="341.90" font-size="5.0" text-anchor="end" fill="#444444" font-weight="normal" stroke="#444444" stroke-width="0.15" transform="rotate(-40 69.35 341.90)">AlSi1MgMn</text>
<text x="86.48" y="341.90" font-size="5.0" text-anchor="end" fill="#444444" font-weight="normal" stroke="#444444" stroke-width="0.15" transform="rotate(-40 86.48 341.90)">CuNi10Fe1Mn</text>
<text x="103.60" y="341.90" font-size="5.0" text-anchor="end" fill="#444444" font-weight="normal" stroke="#444444" stroke-width="0.15" transform="rotate(-40 103.60 341.90)">CuZn39Pb3</text>
<text x="120.73" y="341.90" font-size="5.0" text-anchor="end" fill="#444444" font-weight="normal" stroke="#444444" stroke-width="0.15" transform="rotate(-40 120.73 341.90)">CuSn8</text>
<text x="137.85" y="341.90" font-size="5.0" text-anchor="end" fill="#444444" font-weight="normal" stroke="#444444" stroke-width="0.15" transform="rotate(-40 137.85 341.90)">45NiCrMo</text>
<text x="154.97" y="341.90" font-size="5.0" text-anchor="end" fill="#444444" font-weight="normal" stroke="#444444" stroke-width="0.15" transform="rotate(-40 154.97 341.90)">42CrMo4</text>
<text x="172.10" y="341.90" font-size="5.0" text-anchor="end" fill="#444444" font-weight="normal" stroke="#444444" stroke-width="0.15" transform="rotate(-40 172.10 341.90)">X5CrNi18_10</text>
<rect x="131.30" y="188.90" width="42.50" height="32.40" fill="#fff" stroke="#c8c8c8" stroke-width="0.8"/>
<circle cx="138.80" cy="193.90" r="0.90" fill="#707070"/>
<text x="146.00" y="195.84" font-size="5.4" text-anchor="start" fill="#333" font-weight="normal" stroke="#333" stroke-width="0.22" >EDXRF</text>
<circle cx="138.80" cy="201.90" r="0.90" fill="#f85868"/>
<text x="146.00" y="203.84" font-size="5.4" text-anchor="start" fill="#333" font-weight="normal" stroke="#333" stroke-width="0.22" >WDXRF</text>
<circle cx="138.80" cy="209.70" r="0.90" fill="#4a7ee8"/>
<text x="146.00" y="211.64" font-size="5.4" text-anchor="start" fill="#333" font-weight="normal" stroke="#333" stroke-width="0.22" >LIBS</text>
<circle cx="138.80" cy="217.60" r="0.90" fill="#38aa72"/>
<text x="146.00" y="219.54" font-size="5.4" text-anchor="start" fill="#333" font-weight="normal" stroke="#333" stroke-width="0.22" >spark-OES</text>
<text x="92.80" y="197.30" font-size="9.6" text-anchor="start" fill="#111" font-weight="bold" >Cu</text>
<text x="9.50" y="259.40" font-size="7.4" text-anchor="middle" fill="#333" font-weight="normal" stroke="#333" stroke-width="0.3" transform="rotate(-90 9.50 259.40)">w / wt%</text>
<circle cx="32.20" cy="327.00" r="1.20" fill="#707070"/>
<circle cx="49.33" cy="299.20" r="1.20" fill="#707070"/>
<circle cx="152.07" cy="286.20" r="1.20" fill="#707070"/>
<circle cx="152.07" cy="302.70" r="1.20" fill="#707070"/>
<circle cx="169.20" cy="264.80" r="1.20" fill="#707070"/>
<circle cx="49.33" cy="298.00" r="1.20" fill="#f85868"/>
<circle cx="66.45" cy="293.20" r="1.20" fill="#f85868"/>
<circle cx="83.58" cy="217.40" r="1.20" fill="#f85868"/>
<circle cx="100.70" cy="241.60" r="1.20" fill="#f85868"/>
<circle cx="117.83" cy="200.60" r="1.20" fill="#f85868"/>
<circle cx="134.95" cy="287.80" r="1.20" fill="#f85868"/>
<circle cx="169.20" cy="272.20" r="1.20" fill="#f85868"/>
<circle cx="32.20" cy="307.90" r="1.20" fill="#4a7ee8"/>
<circle cx="66.45" cy="295.60" r="1.20" fill="#4a7ee8"/>
<circle cx="134.95" cy="281.60" r="1.20" fill="#4a7ee8"/>
<circle cx="169.20" cy="270.20" r="1.20" fill="#4a7ee8"/>
<circle cx="32.20" cy="331.60" r="1.20" fill="#38aa72"/>
<circle cx="49.33" cy="300.30" r="1.20" fill="#38aa72"/>
<circle cx="66.45" cy="296.00" r="1.20" fill="#38aa72"/>
<circle cx="83.58" cy="218.20" r="1.20" fill="#38aa72"/>
<circle cx="100.70" cy="242.20" r="1.20" fill="#38aa72"/>
<circle cx="117.83" cy="203.00" r="1.20" fill="#38aa72"/>
<circle cx="134.95" cy="284.90" r="1.20" fill="#38aa72"/>
<circle cx="152.07" cy="302.90" r="1.20" fill="#38aa72"/>
<circle cx="169.20" cy="265.40" r="1.20" fill="#38aa72"/>
<line x1="202.70" y1="186.40" x2="357.80" y2="186.40" stroke="#707070" stroke-width="1.4"/>
<line x1="202.70" y1="331.40" x2="357.80" y2="331.40" stroke="#707070" stroke-width="1.4"/>
<line x1="203.40" y1="186.40" x2="203.40" y2="331.40" stroke="#707070" stroke-width="1.4"/>
<line x1="357.10" y1="186.40" x2="357.10" y2="331.40" stroke="#707070" stroke-width="1.4"/>
<line x1="200.80" y1="325.80" x2="203.40" y2="325.80" stroke="#707070" stroke-width="1.0"/>
<line x1="354.50" y1="325.80" x2="357.10" y2="325.80" stroke="#707070" stroke-width="1.0"/>
<line x1="200.80" y1="297.82" x2="203.40" y2="297.82" stroke="#707070" stroke-width="1.0"/>
<line x1="354.50" y1="297.82" x2="357.10" y2="297.82" stroke="#707070" stroke-width="1.0"/>
<line x1="200.80" y1="269.85" x2="203.40" y2="269.85" stroke="#707070" stroke-width="1.0"/>
<line x1="354.50" y1="269.85" x2="357.10" y2="269.85" stroke="#707070" stroke-width="1.0"/>
<line x1="200.80" y1="241.88" x2="203.40" y2="241.88" stroke="#707070" stroke-width="1.0"/>
<line x1="354.50" y1="241.88" x2="357.10" y2="241.88" stroke="#707070" stroke-width="1.0"/>
<line x1="200.80" y1="213.90" x2="203.40" y2="213.90" stroke="#707070" stroke-width="1.0"/>
<line x1="354.50" y1="213.90" x2="357.10" y2="213.90" stroke="#707070" stroke-width="1.0"/>
<line x1="200.80" y1="185.93" x2="203.40" y2="185.93" stroke="#707070" stroke-width="1.0"/>
<line x1="354.50" y1="185.93" x2="357.10" y2="185.93" stroke="#707070" stroke-width="1.0"/>
<line x1="201.90" y1="311.81" x2="203.40" y2="311.81" stroke="#707070" stroke-width="0.8"/>
<line x1="355.60" y1="311.81" x2="357.10" y2="311.81" stroke="#707070" stroke-width="0.8"/>
<line x1="201.90" y1="283.84" x2="203.40" y2="283.84" stroke="#707070" stroke-width="0.8"/>
<line x1="355.60" y1="283.84" x2="357.10" y2="283.84" stroke="#707070" stroke-width="0.8"/>
<line x1="201.90" y1="255.86" x2="203.40" y2="255.86" stroke="#707070" stroke-width="0.8"/>
<line x1="355.60" y1="255.86" x2="357.10" y2="255.86" stroke="#707070" stroke-width="0.8"/>
<line x1="201.90" y1="227.89" x2="203.40" y2="227.89" stroke="#707070" stroke-width="0.8"/>
<line x1="355.60" y1="227.89" x2="357.10" y2="227.89" stroke="#707070" stroke-width="0.8"/>
<line x1="201.90" y1="199.91" x2="203.40" y2="199.91" stroke="#707070" stroke-width="0.8"/>
<line x1="355.60" y1="199.91" x2="357.10" y2="199.91" stroke="#707070" stroke-width="0.8"/>
<text transform="translate(199.10 327.88) scale(0.88 1)" font-size="5.8" text-anchor="end" fill="#3a3a3a" stroke="#3a3a3a" stroke-width="0.22">0.00</text>
<text transform="translate(199.10 299.90) scale(0.88 1)" font-size="5.8" text-anchor="end" fill="#3a3a3a" stroke="#3a3a3a" stroke-width="0.22">0.25</text>
<text transform="translate(199.10 271.93) scale(0.88 1)" font-size="5.8" text-anchor="end" fill="#3a3a3a" stroke="#3a3a3a" stroke-width="0.22">0.50</text>
<text transform="translate(199.10 243.95) scale(0.88 1)" font-size="5.8" text-anchor="end" fill="#3a3a3a" stroke="#3a3a3a" stroke-width="0.22">0.75</text>
<text transform="translate(199.10 215.98) scale(0.88 1)" font-size="5.8" text-anchor="end" fill="#3a3a3a" stroke="#3a3a3a" stroke-width="0.22">1.00</text>
<text transform="translate(199.10 188.00) scale(0.88 1)" font-size="5.8" text-anchor="end" fill="#3a3a3a" stroke="#3a3a3a" stroke-width="0.22">1.25</text>
<line x1="216.00" y1="331.40" x2="216.00" y2="334.00" stroke="#707070" stroke-width="1.0"/>
<line x1="241.64" y1="331.40" x2="241.64" y2="334.00" stroke="#707070" stroke-width="1.0"/>
<line x1="267.28" y1="331.40" x2="267.28" y2="334.00" stroke="#707070" stroke-width="1.0"/>
<line x1="292.92" y1="331.40" x2="292.92" y2="334.00" stroke="#707070" stroke-width="1.0"/>
<line x1="318.56" y1="331.40" x2="318.56" y2="334.00" stroke="#707070" stroke-width="1.0"/>
<line x1="344.20" y1="331.40" x2="344.20" y2="334.00" stroke="#707070" stroke-width="1.0"/>
<text x="218.90" y="341.00" font-size="5.0" text-anchor="end" fill="#444444" font-weight="normal" stroke="#444444" stroke-width="0.15" transform="rotate(-40 218.90 341.00)">Al99.5</text>
<text x="244.54" y="341.00" font-size="5.0" text-anchor="end" fill="#444444" font-weight="normal" stroke="#444444" stroke-width="0.15" transform="rotate(-40 244.54 341.00)">AlMg4.5Mn0.7</text>
<text x="270.18" y="341.00" font-size="5.0" text-anchor="end" fill="#444444" font-weight="normal" stroke="#444444" stroke-width="0.15" transform="rotate(-40 270.18 341.00)">AlSi1MgMn</text>
<text x="295.82" y="341.00" font-size="5.0" text-anchor="end" fill="#444444" font-weight="normal" stroke="#444444" stroke-width="0.15" transform="rotate(-40 295.82 341.00)">45NiCrMo</text>
<text x="321.46" y="341.00" font-size="5.0" text-anchor="end" fill="#444444" font-weight="normal" stroke="#444444" stroke-width="0.15" transform="rotate(-40 321.46 341.00)">42CrMo4</text>
<text x="347.10" y="341.00" font-size="5.0" text-anchor="end" fill="#444444" font-weight="normal" stroke="#444444" stroke-width="0.15" transform="rotate(-40 347.10 341.00)">X5CrNi18_10</text>
<rect x="309.30" y="188.80" width="40.30" height="31.20" fill="#fff" stroke="#c8c8c8" stroke-width="0.8"/>
<circle cx="316.10" cy="192.90" r="0.90" fill="#707070"/>
<text x="323.10" y="194.84" font-size="5.4" text-anchor="start" fill="#333" font-weight="normal" stroke="#333" stroke-width="0.22" >EDXRF</text>
<circle cx="316.10" cy="200.50" r="0.90" fill="#f85868"/>
<text x="323.10" y="202.44" font-size="5.4" text-anchor="start" fill="#333" font-weight="normal" stroke="#333" stroke-width="0.22" >WDXRF</text>
<circle cx="316.10" cy="208.40" r="0.90" fill="#4a7ee8"/>
<text x="323.10" y="210.34" font-size="5.4" text-anchor="start" fill="#333" font-weight="normal" stroke="#333" stroke-width="0.22" >LIBS</text>
<circle cx="316.10" cy="216.00" r="0.90" fill="#38aa72"/>
<text x="323.10" y="217.94" font-size="5.4" text-anchor="start" fill="#333" font-weight="normal" stroke="#333" stroke-width="0.22" >spark-OES</text>
<text x="251.60" y="198.00" font-size="9.8" text-anchor="start" fill="#111" font-weight="bold" >Si</text>
<text x="188.40" y="258.10" font-size="7.4" text-anchor="middle" fill="#333" font-weight="normal" stroke="#333" stroke-width="0.3" transform="rotate(-90 188.40 258.10)">w / wt%</text>
<circle cx="216.00" cy="325.80" r="1.20" fill="#707070"/>
<circle cx="241.64" cy="323.10" r="1.20" fill="#707070"/>
<circle cx="267.28" cy="218.90" r="1.20" fill="#707070"/>
<circle cx="292.92" cy="298.30" r="1.20" fill="#707070"/>
<circle cx="318.56" cy="268.60" r="1.20" fill="#707070"/>
<circle cx="344.20" cy="271.30" r="1.20" fill="#707070"/>
<circle cx="241.64" cy="314.80" r="1.20" fill="#f85868"/>
<circle cx="267.28" cy="215.60" r="1.20" fill="#f85868"/>
<circle cx="292.92" cy="299.10" r="1.20" fill="#f85868"/>
<circle cx="318.56" cy="303.30" r="1.20" fill="#f85868"/>
<circle cx="344.20" cy="279.20" r="1.20" fill="#f85868"/>
<circle cx="216.00" cy="314.80" r="1.20" fill="#4a7ee8"/>
<circle cx="241.64" cy="313.30" r="1.20" fill="#4a7ee8"/>
<circle cx="267.28" cy="206.40" r="1.20" fill="#4a7ee8"/>
<circle cx="292.92" cy="297.80" r="1.20" fill="#4a7ee8"/>
<circle cx="318.56" cy="292.30" r="1.20" fill="#4a7ee8"/>
<circle cx="344.20" cy="275.60" r="1.20" fill="#4a7ee8"/>
<circle cx="216.00" cy="319.20" r="1.20" fill="#38aa72"/>
<circle cx="241.64" cy="316.50" r="1.20" fill="#38aa72"/>
<circle cx="267.28" cy="198.30" r="1.20" fill="#38aa72"/>
<circle cx="292.92" cy="297.10" r="1.20" fill="#38aa72"/>
<circle cx="318.56" cy="296.00" r="1.20" fill="#38aa72"/>
<circle cx="344.20" cy="273.00" r="1.20" fill="#38aa72"/>
<line x1="21.60" y1="365.90" x2="179.10" y2="365.90" stroke="#707070" stroke-width="1.4"/>
<line x1="21.60" y1="513.10" x2="179.10" y2="513.10" stroke="#707070" stroke-width="1.4"/>
<line x1="22.30" y1="365.90" x2="22.30" y2="513.10" stroke="#707070" stroke-width="1.4"/>
<line x1="178.40" y1="365.90" x2="178.40" y2="513.10" stroke="#707070" stroke-width="1.4"/>
<line x1="19.70" y1="509.50" x2="22.30" y2="509.50" stroke="#707070" stroke-width="1.0"/>
<line x1="175.80" y1="509.50" x2="178.40" y2="509.50" stroke="#707070" stroke-width="1.0"/>
<line x1="19.70" y1="489.56" x2="22.30" y2="489.56" stroke="#707070" stroke-width="1.0"/>
<line x1="175.80" y1="489.56" x2="178.40" y2="489.56" stroke="#707070" stroke-width="1.0"/>
<line x1="19.70" y1="469.62" x2="22.30" y2="469.62" stroke="#707070" stroke-width="1.0"/>
<line x1="175.80" y1="469.62" x2="178.40" y2="469.62" stroke="#707070" stroke-width="1.0"/>
<line x1="19.70" y1="449.67" x2="22.30" y2="449.67" stroke="#707070" stroke-width="1.0"/>
<line x1="175.80" y1="449.67" x2="178.40" y2="449.67" stroke="#707070" stroke-width="1.0"/>
<line x1="19.70" y1="429.73" x2="22.30" y2="429.73" stroke="#707070" stroke-width="1.0"/>
<line x1="175.80" y1="429.73" x2="178.40" y2="429.73" stroke="#707070" stroke-width="1.0"/>
<line x1="19.70" y1="409.79" x2="22.30" y2="409.79" stroke="#707070" stroke-width="1.0"/>
<line x1="175.80" y1="409.79" x2="178.40" y2="409.79" stroke="#707070" stroke-width="1.0"/>
<line x1="19.70" y1="389.85" x2="22.30" y2="389.85" stroke="#707070" stroke-width="1.0"/>
<line x1="175.80" y1="389.85" x2="178.40" y2="389.85" stroke="#707070" stroke-width="1.0"/>
<line x1="19.70" y1="369.90" x2="22.30" y2="369.90" stroke="#707070" stroke-width="1.0"/>
<line x1="175.80" y1="369.90" x2="178.40" y2="369.90" stroke="#707070" stroke-width="1.0"/>
<line x1="20.80" y1="499.53" x2="22.30" y2="499.53" stroke="#707070" stroke-width="0.8"/>
<line x1="176.90" y1="499.53" x2="178.40" y2="499.53" stroke="#707070" stroke-width="0.8"/>
<line x1="20.80" y1="479.59" x2="22.30" y2="479.59" stroke="#707070" stroke-width="0.8"/>
<line x1="176.90" y1="479.59" x2="178.40" y2="479.59" stroke="#707070" stroke-width="0.8"/>
<line x1="20.80" y1="459.64" x2="22.30" y2="459.64" stroke="#707070" stroke-width="0.8"/>
<line x1="176.90" y1="459.64" x2="178.40" y2="459.64" stroke="#707070" stroke-width="0.8"/>
<line x1="20.80" y1="439.70" x2="22.30" y2="439.70" stroke="#707070" stroke-width="0.8"/>
<line x1="176.90" y1="439.70" x2="178.40" y2="439.70" stroke="#707070" stroke-width="0.8"/>
<line x1="20.80" y1="419.76" x2="22.30" y2="419.76" stroke="#707070" stroke-width="0.8"/>
<line x1="176.90" y1="419.76" x2="178.40" y2="419.76" stroke="#707070" stroke-width="0.8"/>
<line x1="20.80" y1="399.82" x2="22.30" y2="399.82" stroke="#707070" stroke-width="0.8"/>
<line x1="176.90" y1="399.82" x2="178.40" y2="399.82" stroke="#707070" stroke-width="0.8"/>
<line x1="20.80" y1="379.87" x2="22.30" y2="379.87" stroke="#707070" stroke-width="0.8"/>
<line x1="176.90" y1="379.87" x2="178.40" y2="379.87" stroke="#707070" stroke-width="0.8"/>
<text transform="translate(18.00 511.58) scale(0.88 1)" font-size="5.8" text-anchor="end" fill="#3a3a3a" stroke="#3a3a3a" stroke-width="0.22">0.00</text>
<text transform="translate(18.00 491.63) scale(0.88 1)" font-size="5.8" text-anchor="end" fill="#3a3a3a" stroke="#3a3a3a" stroke-width="0.22">0.25</text>
<text transform="translate(18.00 471.69) scale(0.88 1)" font-size="5.8" text-anchor="end" fill="#3a3a3a" stroke="#3a3a3a" stroke-width="0.22">0.50</text>
<text transform="translate(18.00 451.75) scale(0.88 1)" font-size="5.8" text-anchor="end" fill="#3a3a3a" stroke="#3a3a3a" stroke-width="0.22">0.75</text>
<text transform="translate(18.00 431.81) scale(0.88 1)" font-size="5.8" text-anchor="end" fill="#3a3a3a" stroke="#3a3a3a" stroke-width="0.22">1.00</text>
<text transform="translate(18.00 411.86) scale(0.88 1)" font-size="5.8" text-anchor="end" fill="#3a3a3a" stroke="#3a3a3a" stroke-width="0.22">1.25</text>
<text transform="translate(18.00 391.92) scale(0.88 1)" font-size="5.8" text-anchor="end" fill="#3a3a3a" stroke="#3a3a3a" stroke-width="0.22">1.50</text>
<text transform="translate(18.00 371.98) scale(0.88 1)" font-size="5.8" text-anchor="end" fill="#3a3a3a" stroke="#3a3a3a" stroke-width="0.22">1.75</text>
<line x1="30.75" y1="513.10" x2="30.75" y2="515.70" stroke="#707070" stroke-width="1.0"/>
<line x1="48.06" y1="513.10" x2="48.06" y2="515.70" stroke="#707070" stroke-width="1.0"/>
<line x1="65.37" y1="513.10" x2="65.37" y2="515.70" stroke="#707070" stroke-width="1.0"/>
<line x1="82.68" y1="513.10" x2="82.68" y2="515.70" stroke="#707070" stroke-width="1.0"/>
<line x1="99.99" y1="513.10" x2="99.99" y2="515.70" stroke="#707070" stroke-width="1.0"/>
<line x1="117.30" y1="513.10" x2="117.30" y2="515.70" stroke="#707070" stroke-width="1.0"/>
<line x1="134.61" y1="513.10" x2="134.61" y2="515.70" stroke="#707070" stroke-width="1.0"/>
<line x1="151.92" y1="513.10" x2="151.92" y2="515.70" stroke="#707070" stroke-width="1.0"/>
<line x1="169.23" y1="513.10" x2="169.23" y2="515.70" stroke="#707070" stroke-width="1.0"/>
<text x="33.65" y="522.70" font-size="5.0" text-anchor="end" fill="#444444" font-weight="normal" stroke="#444444" stroke-width="0.15" transform="rotate(-40 33.65 522.70)">Al99.5</text>
<text x="50.96" y="522.70" font-size="5.0" text-anchor="end" fill="#444444" font-weight="normal" stroke="#444444" stroke-width="0.15" transform="rotate(-40 50.96 522.70)">AlMg4.5Mn0.7</text>
<text x="68.27" y="522.70" font-size="5.0" text-anchor="end" fill="#444444" font-weight="normal" stroke="#444444" stroke-width="0.15" transform="rotate(-40 68.27 522.70)">AlSi1MgMn</text>
<text x="85.58" y="522.70" font-size="5.0" text-anchor="end" fill="#444444" font-weight="normal" stroke="#444444" stroke-width="0.15" transform="rotate(-40 85.58 522.70)">CuNi10Fe1Mn</text>
<text x="102.89" y="522.70" font-size="5.0" text-anchor="end" fill="#444444" font-weight="normal" stroke="#444444" stroke-width="0.15" transform="rotate(-40 102.89 522.70)">CuZn39Pb3</text>
<text x="120.20" y="522.70" font-size="5.0" text-anchor="end" fill="#444444" font-weight="normal" stroke="#444444" stroke-width="0.15" transform="rotate(-40 120.20 522.70)">CuSn8</text>
<text x="137.51" y="522.70" font-size="5.0" text-anchor="end" fill="#444444" font-weight="normal" stroke="#444444" stroke-width="0.15" transform="rotate(-40 137.51 522.70)">45NiCrMo</text>
<text x="154.82" y="522.70" font-size="5.0" text-anchor="end" fill="#444444" font-weight="normal" stroke="#444444" stroke-width="0.15" transform="rotate(-40 154.82 522.70)">42CrMo4</text>
<text x="172.13" y="522.70" font-size="5.0" text-anchor="end" fill="#444444" font-weight="normal" stroke="#444444" stroke-width="0.15" transform="rotate(-40 172.13 522.70)">X5CrNi18_10</text>
<rect x="36.30" y="368.90" width="41.60" height="32.40" fill="#fff" stroke="#c8c8c8" stroke-width="0.8"/>
<circle cx="44.10" cy="373.30" r="0.90" fill="#707070"/>
<text x="51.00" y="375.24" font-size="5.4" text-anchor="start" fill="#333" font-weight="normal" stroke="#333" stroke-width="0.22" >EDXRF</text>
<circle cx="44.10" cy="381.10" r="0.90" fill="#f85868"/>
<text x="51.00" y="383.04" font-size="5.4" text-anchor="start" fill="#333" font-weight="normal" stroke="#333" stroke-width="0.22" >WDXRF</text>
<circle cx="44.10" cy="388.80" r="0.90" fill="#4a7ee8"/>
<text x="51.00" y="390.74" font-size="5.4" text-anchor="start" fill="#333" font-weight="normal" stroke="#333" stroke-width="0.22" >LIBS</text>
<circle cx="44.10" cy="396.90" r="0.90" fill="#38aa72"/>
<text x="51.00" y="398.84" font-size="5.4" text-anchor="start" fill="#333" font-weight="normal" stroke="#333" stroke-width="0.22" >spark-OES</text>
<text x="94.00" y="380.10" font-size="10.7" text-anchor="start" fill="#111" font-weight="bold" >Mn</text>
<text x="5.70" y="440.10" font-size="7.4" text-anchor="middle" fill="#333" font-weight="normal" stroke="#333" stroke-width="0.3" transform="rotate(-90 5.70 440.10)">w / wt%</text>
<circle cx="48.06" cy="469.50" r="1.20" fill="#707070"/>
<circle cx="65.37" cy="444.90" r="1.20" fill="#707070"/>
<circle cx="82.68" cy="454.10" r="1.20" fill="#707070"/>
<circle cx="134.61" cy="493.50" r="1.20" fill="#707070"/>
<circle cx="151.92" cy="455.40" r="1.20" fill="#707070"/>
<circle cx="169.23" cy="413.60" r="1.20" fill="#707070"/>
<circle cx="48.06" cy="468.40" r="1.20" fill="#f85868"/>
<circle cx="65.37" cy="441.00" r="1.20" fill="#f85868"/>
<circle cx="117.30" cy="509.10" r="1.20" fill="#f85868"/>
<circle cx="169.23" cy="380.40" r="1.20" fill="#f85868"/>
<circle cx="48.06" cy="474.50" r="1.20" fill="#4a7ee8"/>
<circle cx="65.37" cy="448.60" r="1.20" fill="#4a7ee8"/>
<circle cx="134.61" cy="485.40" r="1.20" fill="#4a7ee8"/>
<circle cx="151.92" cy="460.00" r="1.20" fill="#4a7ee8"/>
<circle cx="169.23" cy="398.60" r="1.20" fill="#4a7ee8"/>
<circle cx="30.75" cy="509.30" r="1.20" fill="#38aa72"/>
<circle cx="48.06" cy="470.50" r="1.20" fill="#38aa72"/>
<circle cx="65.37" cy="446.40" r="1.20" fill="#38aa72"/>
<circle cx="82.68" cy="446.90" r="1.20" fill="#38aa72"/>
<circle cx="99.99" cy="508.80" r="1.20" fill="#38aa72"/>
<circle cx="117.30" cy="509.30" r="1.20" fill="#38aa72"/>
<circle cx="134.61" cy="482.40" r="1.20" fill="#38aa72"/>
<circle cx="151.92" cy="457.30" r="1.20" fill="#38aa72"/>
<circle cx="169.23" cy="425.90" r="1.20" fill="#38aa72"/>
<line x1="197.20" y1="366.80" x2="359.80" y2="366.80" stroke="#707070" stroke-width="1.4"/>
<line x1="197.20" y1="519.50" x2="359.80" y2="519.50" stroke="#707070" stroke-width="1.4"/>
<line x1="197.90" y1="366.80" x2="197.90" y2="519.50" stroke="#707070" stroke-width="1.4"/>
<line x1="359.10" y1="366.80" x2="359.10" y2="519.50" stroke="#707070" stroke-width="1.4"/>
<line x1="195.30" y1="515.00" x2="197.90" y2="515.00" stroke="#707070" stroke-width="1.0"/>
<line x1="356.50" y1="515.00" x2="359.10" y2="515.00" stroke="#707070" stroke-width="1.0"/>
<line x1="195.30" y1="493.84" x2="197.90" y2="493.84" stroke="#707070" stroke-width="1.0"/>
<line x1="356.50" y1="493.84" x2="359.10" y2="493.84" stroke="#707070" stroke-width="1.0"/>
<line x1="195.30" y1="472.68" x2="197.90" y2="472.68" stroke="#707070" stroke-width="1.0"/>
<line x1="356.50" y1="472.68" x2="359.10" y2="472.68" stroke="#707070" stroke-width="1.0"/>
<line x1="195.30" y1="451.52" x2="197.90" y2="451.52" stroke="#707070" stroke-width="1.0"/>
<line x1="356.50" y1="451.52" x2="359.10" y2="451.52" stroke="#707070" stroke-width="1.0"/>
<line x1="195.30" y1="430.36" x2="197.90" y2="430.36" stroke="#707070" stroke-width="1.0"/>
<line x1="356.50" y1="430.36" x2="359.10" y2="430.36" stroke="#707070" stroke-width="1.0"/>
<line x1="195.30" y1="409.20" x2="197.90" y2="409.20" stroke="#707070" stroke-width="1.0"/>
<line x1="356.50" y1="409.20" x2="359.10" y2="409.20" stroke="#707070" stroke-width="1.0"/>
<line x1="195.30" y1="388.04" x2="197.90" y2="388.04" stroke="#707070" stroke-width="1.0"/>
<line x1="356.50" y1="388.04" x2="359.10" y2="388.04" stroke="#707070" stroke-width="1.0"/>
<line x1="195.30" y1="366.88" x2="197.90" y2="366.88" stroke="#707070" stroke-width="1.0"/>
<line x1="356.50" y1="366.88" x2="359.10" y2="366.88" stroke="#707070" stroke-width="1.0"/>
<line x1="196.40" y1="504.42" x2="197.90" y2="504.42" stroke="#707070" stroke-width="0.8"/>
<line x1="357.60" y1="504.42" x2="359.10" y2="504.42" stroke="#707070" stroke-width="0.8"/>
<line x1="196.40" y1="483.26" x2="197.90" y2="483.26" stroke="#707070" stroke-width="0.8"/>
<line x1="357.60" y1="483.26" x2="359.10" y2="483.26" stroke="#707070" stroke-width="0.8"/>
<line x1="196.40" y1="462.10" x2="197.90" y2="462.10" stroke="#707070" stroke-width="0.8"/>
<line x1="357.60" y1="462.10" x2="359.10" y2="462.10" stroke="#707070" stroke-width="0.8"/>
<line x1="196.40" y1="440.94" x2="197.90" y2="440.94" stroke="#707070" stroke-width="0.8"/>
<line x1="357.60" y1="440.94" x2="359.10" y2="440.94" stroke="#707070" stroke-width="0.8"/>
<line x1="196.40" y1="419.78" x2="197.90" y2="419.78" stroke="#707070" stroke-width="0.8"/>
<line x1="357.60" y1="419.78" x2="359.10" y2="419.78" stroke="#707070" stroke-width="0.8"/>
<line x1="196.40" y1="398.62" x2="197.90" y2="398.62" stroke="#707070" stroke-width="0.8"/>
<line x1="357.60" y1="398.62" x2="359.10" y2="398.62" stroke="#707070" stroke-width="0.8"/>
<line x1="196.40" y1="377.46" x2="197.90" y2="377.46" stroke="#707070" stroke-width="0.8"/>
<line x1="357.60" y1="377.46" x2="359.10" y2="377.46" stroke="#707070" stroke-width="0.8"/>
<text transform="translate(193.60 517.08) scale(0.88 1)" font-size="5.8" text-anchor="end" fill="#3a3a3a" stroke="#3a3a3a" stroke-width="0.22">0</text>
<text transform="translate(193.60 495.92) scale(0.88 1)" font-size="5.8" text-anchor="end" fill="#3a3a3a" stroke="#3a3a3a" stroke-width="0.22">1</text>
<text transform="translate(193.60 474.76) scale(0.88 1)" font-size="5.8" text-anchor="end" fill="#3a3a3a" stroke="#3a3a3a" stroke-width="0.22">2</text>
<text transform="translate(193.60 453.60) scale(0.88 1)" font-size="5.8" text-anchor="end" fill="#3a3a3a" stroke="#3a3a3a" stroke-width="0.22">3</text>
<text transform="translate(193.60 432.44) scale(0.88 1)" font-size="5.8" text-anchor="end" fill="#3a3a3a" stroke="#3a3a3a" stroke-width="0.22">4</text>
<text transform="translate(193.60 411.28) scale(0.88 1)" font-size="5.8" text-anchor="end" fill="#3a3a3a" stroke="#3a3a3a" stroke-width="0.22">5</text>
<text transform="translate(193.60 390.12) scale(0.88 1)" font-size="5.8" text-anchor="end" fill="#3a3a3a" stroke="#3a3a3a" stroke-width="0.22">6</text>
<text transform="translate(193.60 368.96) scale(0.88 1)" font-size="5.8" text-anchor="end" fill="#3a3a3a" stroke="#3a3a3a" stroke-width="0.22">7</text>
<line x1="224.60" y1="519.50" x2="224.60" y2="522.10" stroke="#707070" stroke-width="1.0"/>
<line x1="278.35" y1="519.50" x2="278.35" y2="522.10" stroke="#707070" stroke-width="1.0"/>
<line x1="332.10" y1="519.50" x2="332.10" y2="522.10" stroke="#707070" stroke-width="1.0"/>
<text x="224.60" y="530.10" font-size="5.6" text-anchor="middle" fill="#444444" font-weight="normal" stroke="#444444" stroke-width="0.15" >Al99.5</text>
<text x="278.35" y="530.10" font-size="5.6" text-anchor="middle" fill="#444444" font-weight="normal" stroke="#444444" stroke-width="0.15" >AlMg4.5Mn0.7</text>
<text x="332.10" y="530.10" font-size="5.6" text-anchor="middle" fill="#444444" font-weight="normal" stroke="#444444" stroke-width="0.15" >AlSi1MgMn</text>
<rect x="307.00" y="370.00" width="44.00" height="34.20" fill="#fff" stroke="#c8c8c8" stroke-width="0.8"/>
<circle cx="314.50" cy="374.60" r="0.90" fill="#707070"/>
<text x="322.10" y="376.54" font-size="5.4" text-anchor="start" fill="#333" font-weight="normal" stroke="#333" stroke-width="0.22" >EDXRF</text>
<circle cx="314.50" cy="382.70" r="0.90" fill="#f85868"/>
<text x="322.10" y="384.64" font-size="5.4" text-anchor="start" fill="#333" font-weight="normal" stroke="#333" stroke-width="0.22" >WDXRF</text>
<circle cx="314.50" cy="391.00" r="0.90" fill="#4a7ee8"/>
<text x="322.10" y="392.94" font-size="5.4" text-anchor="start" fill="#333" font-weight="normal" stroke="#333" stroke-width="0.22" >LIBS</text>
<circle cx="314.50" cy="399.60" r="0.90" fill="#38aa72"/>
<text x="322.10" y="401.54" font-size="5.4" text-anchor="start" fill="#333" font-weight="normal" stroke="#333" stroke-width="0.22" >spark-OES</text>
<text x="253.40" y="380.20" font-size="9.8" text-anchor="start" fill="#111" font-weight="bold" >Mg</text>
<text x="188.30" y="442.80" font-size="7.4" text-anchor="middle" fill="#333" font-weight="normal" stroke="#333" stroke-width="0.3" transform="rotate(-90 188.30 442.80)">w / wt%</text>
<circle cx="224.60" cy="510.60" r="1.20" fill="#707070"/>
<circle cx="278.35" cy="382.10" r="1.20" fill="#707070"/>
<circle cx="278.35" cy="409.80" r="1.20" fill="#f85868"/>
<circle cx="224.60" cy="514.80" r="1.20" fill="#4a7ee8"/>
<circle cx="278.35" cy="428.00" r="1.20" fill="#4a7ee8"/>
<circle cx="332.10" cy="494.90" r="1.20" fill="#4a7ee8"/>
<circle cx="224.60" cy="515.20" r="1.20" fill="#38aa72"/>
<circle cx="278.35" cy="428.60" r="1.20" fill="#38aa72"/>
<circle cx="332.10" cy="496.70" r="1.20" fill="#38aa72"/>
</svg>
</body></html>
